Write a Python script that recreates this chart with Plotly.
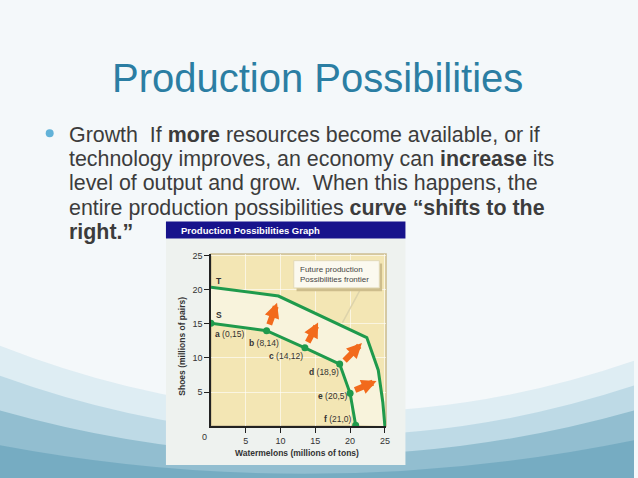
import plotly.graph_objects as go

# frontier S (current) and T (future)
s_x = [0, 8, 13.5, 18.5, 20, 20.8]
s_y = [15.1, 14, 11.5, 9.1, 4.8, 0.1]
point_labels = ["a (0,15)", "b (8,14)", "c (14,12)", "d (18,9)", "e (20,5)", "f (21,0)"]

t_x = [0, 9.7, 22.4, 24.05, 24.7, 25]
t_y = [20.4, 19.1, 13.0, 8.2, 3.5, 0]

# orange shift arrows (tail -> head)
arrow_tail_x = [8.3, 13.8, 19.0, 20.5]
arrow_tail_y = [14.7, 12.1, 9.4, 5.2]
arrow_head_x = [9.5, 15.4, 21.7, 23.8]
arrow_head_y = [18.1, 15.2, 12.2, 6.6]

tick_vals = [5, 10, 15, 20, 25]

bullet_lines = [
    "Growth  If <b>more</b> resources become available, or if",
    "technology improves, an economy can <b>increase</b> its",
    "level of output and grow.  When this happens, the",
    "entire production possibilities <b>curve \u201cshifts to the</b>",
    "<b>right.\u201d</b>",
]

W, H = 638, 478
FONT = "Liberation Sans, Arial, sans-serif"
GREEN = "#1f9a4c"
ORANGE = "#f26a1c"


def px(x):
    return x / W


def py(y):
    return 1 - y / H


fig = go.Figure()

# lighter band between the two frontiers
fig.add_trace(go.Scatter(
    x=t_x + s_x[::-1], y=t_y + s_y[::-1],
    fill="toself", fillcolor="#f8f3dc", mode="none",
    hoverinfo="skip", showlegend=False,
))
fig.add_trace(go.Scatter(
    x=t_x, y=t_y, mode="lines",
    line=dict(color=GREEN, width=3), showlegend=False,
))
fig.add_trace(go.Scatter(
    x=s_x, y=s_y, mode="lines+markers",
    line=dict(color=GREEN, width=3),
    marker=dict(color=GREEN, size=7), showlegend=False,
))

shapes = []
# slide background swoosh
for top_l, mid, top_r, col in [
    (345, 470, 360, "rgba(190,220,232,0.4)"),
    (375, 490, 385, "rgba(150,196,214,0.45)"),
    (410, 500, 410, "rgba(110,168,190,0.55)"),
    (445, 505, 440, "rgba(100,160,185,0.6)"),
]:
    shapes.append(dict(
        type="path", xref="paper", yref="paper", layer="below",
        path=f"M 0 {py(top_l)} Q {px(319)} {py(mid)} 1 {py(top_r)} L 1 0 L 0 0 Z",
        fillcolor=col, line=dict(width=0),
    ))
# chart panel and header bar
shapes.append(dict(type="rect", xref="paper", yref="paper", layer="below",
                   x0=px(167), x1=px(408), y0=py(465), y1=py(237),
                   fillcolor="#eef2ef", line=dict(width=0)))
shapes.append(dict(type="rect", xref="paper", yref="paper", layer="below",
                   x0=px(167), x1=px(408), y0=py(237), y1=py(220),
                   fillcolor="#17138c", line=dict(width=0)))
# yellow plot area with tan frame
shapes.append(dict(type="rect", xref="paper", yref="paper", layer="below",
                   x0=px(212.3), x1=px(388.5), y0=py(425.7), y1=py(252.5),
                   fillcolor="#f3e6b4", line=dict(color="#cdbf95", width=1.5)))
# callout box with shadow and pointer
shapes.append(dict(type="line", xref="x", yref="y", x0=21.6, y0=20.3, x1=18.9, y1=15.2,
                   line=dict(color="#ddd3ab", width=1.5)))
shapes.append(dict(type="rect", xref="x", yref="y", x0=12.3, x1=24.6, y0=19.8, y1=23.9,
                   fillcolor="#cdbd8c", line=dict(width=0)))
shapes.append(dict(type="rect", xref="x", yref="y", x0=11.9, x1=24.2, y0=20.3, y1=24.3,
                   fillcolor="#fbf9ef", line=dict(color="#e2dab8", width=1)))
# bullet dot
shapes.append(dict(type="circle", xref="paper", yref="paper",
                   x0=px(46), x1=px(54), y0=py(135), y1=py(127),
                   fillcolor="#62b2d8", line=dict(width=0)))

annotations = []


def note(text, x, y, size, color="#333", xanchor="center", ref="paper", **kw):
    annotations.append(dict(
        text=text, x=x, y=y, xref=ref if ref == "paper" else "x",
        yref=ref if ref == "paper" else "y",
        xanchor=xanchor, yanchor="middle", showarrow=False,
        font=dict(family=FONT, size=size, color=color), **kw,
    ))


note("Production Possibilities", px(319), py(75), 40, "#2b7ea3")
for i, line in enumerate(bullet_lines):
    note(line, px(67), py(133 + i * 24.3), 21.4, "#3c3c3c", xanchor="left")
note("<b>Production Possibilities Graph</b>", px(180), py(228.5), 9.5, "white", xanchor="left")
note("Future production<br>Possibilities frontier", 12.5, 22.3, 8, "#444",
     xanchor="left", ref="data", align="left")
note("<b>T</b>", 1.1, 21.3, 8.5, ref="data")
note("<b>S</b>", 1.1, 16.3, 8.5, ref="data")

label_shift = [(2, -11, "left"), (-3, -12, "center"), (-19, -8, "center"),
               (-16, -8, "center"), (-18, -3, "center"), (-18, 6, "center")]
for (lx, ly, anc), name, xv, yv in zip(label_shift, point_labels, s_x, s_y):
    letter, rest = name.split(" ", 1)
    note(f"<b>{letter}</b> {rest}", xv, yv, 8.5, xanchor=anc, ref="data",
         xshift=lx, yshift=ly)

for x0, y0, x1, y1 in zip(arrow_tail_x, arrow_tail_y, arrow_head_x, arrow_head_y):
    annotations.append(dict(
        x=x1, y=y1, ax=x0, ay=y0, xref="x", yref="y", axref="x", ayref="y",
        text="", showarrow=True, arrowhead=2, arrowsize=0.5, arrowwidth=6,
        arrowcolor=ORANGE,
    ))

note("0", px(206), py(437), 9)
note("<b>Watermelons (millions of tons)</b>", px(299), py(453), 8.5)
note("<b>Shoes (millions of pairs)</b>", px(183), py(345), 8.5, textangle=-90)

fig.update_layout(
    width=W, height=H,
    margin=dict(l=0, r=0, t=0, b=0),
    paper_bgcolor="#f4f8fa",
    plot_bgcolor="rgba(0,0,0,0)",
    shapes=shapes,
    annotations=annotations,
    showlegend=False,
    xaxis=dict(
        domain=[px(212.3), px(388.5)], range=[0, 25.17],
        tickvals=tick_vals, showgrid=True, gridcolor="rgba(255,255,255,0.6)",
        showline=True, linecolor="#222", linewidth=1.5,
        ticks="outside", ticklen=5, tickcolor="#222",
        tickfont=dict(family=FONT, size=9, color="#333"),
        zeroline=False, fixedrange=True,
    ),
    yaxis=dict(
        domain=[py(425.7), py(252.5)], range=[0, 25.29],
        tickvals=tick_vals, showgrid=True, gridcolor="rgba(255,255,255,0.6)",
        showline=True, linecolor="#222", linewidth=1.5,
        ticks="outside", ticklen=5, tickcolor="#222",
        tickfont=dict(family=FONT, size=9, color="#333"),
        zeroline=False, fixedrange=True,
    ),
)

fig.write_html("out.html", config={"displayModeBar": False},
               post_script="document.body.style.margin='0';")
